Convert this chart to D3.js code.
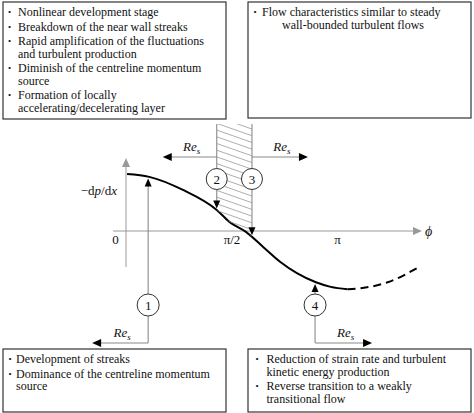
<!DOCTYPE html>
<html>
<head>
<meta charset="utf-8">
<script src="https://cdn.jsdelivr.net/npm/d3@7"></script>
<style>
  body { margin: 0; background: #fff; }
</style>
</head>
<body>
<svg id="chart"></svg>
<script>
// schematic -dp/dx curve: phase in units of pi, normalised value
const curvePhi = [0.005, 0.11, 0.27, 0.43, 0.49, 0.57, 0.65, 0.73, 0.81, 0.90, 0.97, 1.05]
const curveVal = [1.0, 0.95, 0.72, 0.37, 0.16, -0.02, -0.28, -0.54, -0.74, -0.90, -0.98, -1.02]
const dashedPhi = [1.05, 1.12, 1.24, 1.38]
const dashedVal = [-1.02, -1.0, -0.9, -0.65]

// stages marked on the curve
const stageLabels = ['1', '2', '3', '4']
const stagePhi = [0.105, 0.43, 0.597, 0.896]

const tickValues = [0, 0.5, 1]
const tickLabels = ['0', 'π/2', 'π']

const topLeftItems = [
    ['Nonlinear development stage'],
    ['Breakdown of the near wall streaks'],
    ['Rapid amplification of the fluctuations', 'and turbulent production'],
    ['Diminish of the centreline momentum', 'source'],
    ['Formation of locally', 'accelerating/decelerating layer']
]
const topRightItems = [
    ['Flow characteristics similar to steady', 'wall-bounded turbulent flows']
]
const bottomLeftItems = [
    ['Development of streaks'],
    ['Dominance of the centreline momentum', 'source']
]
const bottomRightItems = [
    ['Reduction of strain rate and turbulent', 'kinetic energy production'],
    ['Reverse transition to a weakly', 'transitional flow']
]

const width = 474
const height = 413
const grey = '#999'
const lineGrey = '#8a8a8a'
const serif = '"Liberation Serif", "Times New Roman", serif'

const svg = d3.select('#chart')
    .attr('width', width)
    .attr('height', height)
    .style('background', '#fff')
    .style('font-family', serif)

// helper so every label gets the serif face
const addText = (sel) => sel.append('text')
    .style('font-family', serif)
    .style('fill', '#111')

// scales
const xScale = d3.scaleLinear().domain([0, 1]).range([126, 337])
const yScale = d3.scaleLinear().domain([-1, 1]).range([288, 174])
const y0 = yScale(0)

// small filled triangle, tip at (x, y)
const arrowHead = (x, y, dir, colour, len = 8, half = 3.5) => {
    let pts
    if (dir === 'up') pts = [[x, y], [x - half, y + len], [x + half, y + len]]
    if (dir === 'down') pts = [[x, y], [x - half, y - len], [x + half, y - len]]
    if (dir === 'left') pts = [[x, y], [x + len, y - half], [x + len, y + half]]
    if (dir === 'right') pts = [[x, y], [x - len, y - half], [x - len, y + half]]
    svg.append('path')
        .attr('d', 'M' + pts.join('L') + 'Z')
        .style('fill', colour)
}

// text boxes
const drawBox = (items, bx, by, bw, bh, bulletDx, textDx, indents) => {
    svg.append('rect')
        .attr('x', bx).attr('y', by)
        .attr('width', bw).attr('height', bh)
        .style('fill', 'none')
        .style('stroke', '#333')
        .style('stroke-width', 1.2)
    let yy = by + 14
    items.forEach(lines => {
        addText(svg)
            .attr('x', bx + bulletDx).attr('y', yy - 1)
            .attr('text-anchor', 'middle')
            .style('font-size', '9px')
            .text('•')
        lines.forEach((ln, i) => {
            addText(svg)
                .attr('x', bx + textDx + (indents && i > 0 ? indents : 0))
                .attr('y', yy + i * 12.5)
                .style('font-size', '12px')
                .text(ln)
        })
        yy += (lines.length - 1) * 12.5 + 14.5
    })
}

drawBox(topLeftItems, 3, 2, 223, 117, 6.5, 15)
drawBox(topRightItems, 248, 2, 223, 116, 7, 14, 20)
drawBox(bottomLeftItems, 3, 349, 223, 63, 7, 13)
drawBox(bottomRightItems, 248, 349, 223, 63, 9, 18.5)

// axes
svg.append('line')
    .attr('x1', 113).attr('x2', 414)
    .attr('y1', y0).attr('y2', y0)
    .style('stroke', grey).style('stroke-width', 1)
arrowHead(422, y0, 'right', grey, 9, 4)
svg.append('line')
    .attr('x1', xScale(0)).attr('x2', xScale(0))
    .attr('y1', 267).attr('y2', 166)
    .style('stroke', grey).style('stroke-width', 1)
arrowHead(xScale(0), 158, 'up', grey, 9, 4)

const xAxis = d3.axisBottom(xScale)
    .tickValues(tickValues)
    .tickFormat((d, i) => tickLabels[i])
    .tickSize(0)
    .tickPadding(4)
const gx = svg.append('g')
    .attr('transform', `translate(0, ${y0})`)
    .call(xAxis)
gx.attr('font-family', null).attr('font-size', null)
gx.select('.domain').remove()
gx.selectAll('text')
    .style('font-family', serif)
    .style('font-size', '13px')
    .style('fill', '#111')
    .attr('dx', (d, i) => i === 0 ? -11 : 0)

addText(svg)
    .attr('x', 425).attr('y', y0)
    .attr('dy', '0.35em')
    .style('font-size', '14px')
    .style('font-style', 'italic')
    .text('ϕ')

const yLabel = addText(svg)
    .attr('x', 117).attr('y', 195)
    .attr('text-anchor', 'end')
    .style('font-size', '13px')
yLabel.append('tspan').text('−d')
yLabel.append('tspan').style('font-style', 'italic').text('p')
yLabel.append('tspan').text('/d')
yLabel.append('tspan').style('font-style', 'italic').text('x')

// curve
const line = d3.line()
    .x(d => xScale(d[0]))
    .y(d => yScale(d[1]))
    .curve(d3.curveMonotoneX)

const solid = svg.append('path')
    .datum(d3.zip(curvePhi, curveVal))
    .attr('d', line)
    .style('fill', 'none')
    .style('stroke', '#000')
    .style('stroke-width', 2)

svg.append('path')
    .datum(d3.zip(dashedPhi, dashedVal))
    .attr('d', line)
    .style('fill', 'none')
    .style('stroke', '#000')
    .style('stroke-width', 2)
    .style('stroke-dasharray', '8,5')

// y of the drawn curve at a given pixel x
const yOnPath = (node, x) => {
    let lo = 0, hi = node.getTotalLength()
    for (let k = 0; k < 30; k++) {
        const mid = (lo + hi) / 2
        if (node.getPointAtLength(mid).x < x) lo = mid; else hi = mid
    }
    return node.getPointAtLength(lo).y
}

const sx = stagePhi.map(p => xScale(p))
const sy = sx.map(x => yOnPath(solid.node(), x))
const hatchTop = 124

// hatched band between stage 2 and 3
const clipPts = [[sx[1], hatchTop], [sx[2], hatchTop]]
for (let x = sx[2]; x >= sx[1]; x -= 1) clipPts.push([x, yOnPath(solid.node(), x)])
clipPts.push([sx[1], yOnPath(solid.node(), sx[1])])
svg.append('clipPath').attr('id', 'hatch-clip')
    .append('path')
    .attr('d', 'M' + clipPts.join('L') + 'Z')
const hatch = svg.append('g').attr('clip-path', 'url(#hatch-clip)')
for (let yy = hatchTop - 14; yy < y0 + 10; yy += 6.7) {
    hatch.append('line')
        .attr('x1', sx[1]).attr('x2', sx[2])
        .attr('y1', yy).attr('y2', yy + (sx[2] - sx[1]) * 0.35)
        .style('stroke', grey)
        .style('stroke-width', 0.8)
}

// stage lines
const lowY = 343
const circleYTop = 179
const circleYBottom = 305
svg.selectAll('.stage-line')
    .data(stageLabels)
    .enter()
    .append('line')
        .attr('x1', (d, i) => sx[i])
        .attr('x2', (d, i) => sx[i])
        .attr('y1', (d, i) => (i === 1 || i === 2) ? hatchTop : lowY)
        .attr('y2', (d, i) => (i === 1 || i === 2) ? sy[i] - 8 : sy[i] + 9)
        .style('stroke', lineGrey)
        .style('stroke-width', 1.1)
stageLabels.forEach((d, i) => {
    if (i === 1 || i === 2) arrowHead(sx[i], sy[i] - 1.5, 'down', '#000')
    else arrowHead(sx[i], sy[i] + 2, 'up', '#000')
})

svg.selectAll('.stage-circle')
    .data(stageLabels)
    .enter()
    .append('circle')
        .attr('cx', (d, i) => sx[i])
        .attr('cy', (d, i) => (i === 1 || i === 2) ? circleYTop : circleYBottom)
        .attr('r', (d, i) => (i === 1 || i === 2) ? 10.5 : 11)
        .style('fill', '#fff')
        .style('stroke', '#333')
        .style('stroke-width', 1)
svg.selectAll('.stage-num')
    .data(stageLabels)
    .enter()
    .append('text')
        .attr('x', (d, i) => sx[i])
        .attr('y', (d, i) => (i === 1 || i === 2) ? circleYTop : circleYBottom)
        .attr('dy', '0.35em')
        .attr('text-anchor', 'middle')
        .style('font-family', serif)
        .style('font-size', '13px')
        .style('fill', '#111')
        .text(d => d)

// Re_s arrows
const reArrow = (x, y, len) => {
    const tip = x + len
    svg.append('line')
        .attr('x1', x).attr('x2', tip - Math.sign(len) * 6)
        .attr('y1', y).attr('y2', y)
        .style('stroke', lineGrey)
        .style('stroke-width', 1.1)
    arrowHead(tip, y, len < 0 ? 'left' : 'right', '#000', 9, 4)
    const t = addText(svg)
        .attr('x', x + len / 2 + 2).attr('y', y - 6)
        .attr('text-anchor', 'middle')
        .style('font-size', '13px')
        .style('font-style', 'italic')
    t.append('tspan').text('Re')
    t.append('tspan').attr('dy', 3).style('font-size', '9px').text('s')
}
reArrow(sx[1], 157, -54)
reArrow(sx[2], 157, 56)
reArrow(sx[0], lowY, -56)
reArrow(sx[3], lowY, 57)
</script>
</body>
</html>
